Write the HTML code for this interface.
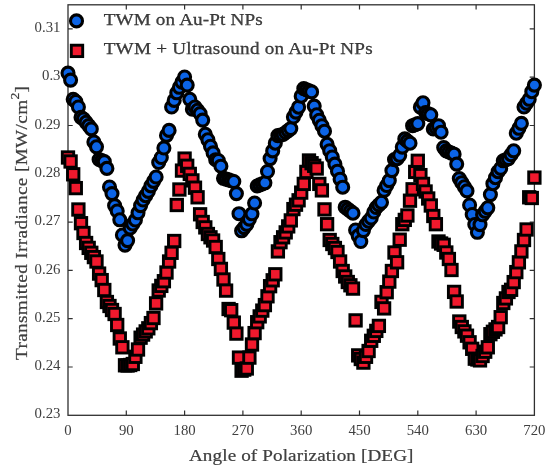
<!DOCTYPE html><html><head><meta charset="utf-8"><title>Transmitted Irradiance</title>
<style>html,body{margin:0;padding:0;background:#fff}svg{display:block}text{font-family:"Liberation Serif",serif;fill:#404040}</style></head><body>
<svg width="550" height="471" viewBox="0 0 550 471">
<rect width="550" height="471" fill="#fff"/>
<rect x="68.0" y="4.8" width="466.4" height="410.5" fill="none" stroke="#303030" stroke-width="1.3"/>
<path d="M126.3 415.3v-4.7M126.3 4.8v4.7M184.6 415.3v-4.7M184.6 4.8v4.7M242.9 415.3v-4.7M242.9 4.8v4.7M301.2 415.3v-4.7M301.2 4.8v4.7M359.5 415.3v-4.7M359.5 4.8v4.7M417.8 415.3v-4.7M417.8 4.8v4.7M476.1 415.3v-4.7M476.1 4.8v4.7M68.0 28.9h4.7M534.4 28.9h-4.7M68.0 77.2h4.7M534.4 77.2h-4.7M68.0 125.5h4.7M534.4 125.5h-4.7M68.0 173.8h4.7M534.4 173.8h-4.7M68.0 222.1h4.7M534.4 222.1h-4.7M68.0 270.4h4.7M534.4 270.4h-4.7M68.0 318.7h4.7M534.4 318.7h-4.7M68.0 367.0h4.7M534.4 367.0h-4.7" stroke="#303030" stroke-width="1.2" fill="none"/>
<g font-size="14.8">
<text x="68.0" y="435.2" text-anchor="middle">0</text>
<text x="126.3" y="435.2" text-anchor="middle">90</text>
<text x="184.6" y="435.2" text-anchor="middle">180</text>
<text x="242.9" y="435.2" text-anchor="middle">270</text>
<text x="301.2" y="435.2" text-anchor="middle">360</text>
<text x="359.5" y="435.2" text-anchor="middle">450</text>
<text x="417.8" y="435.2" text-anchor="middle">540</text>
<text x="476.1" y="435.2" text-anchor="middle">630</text>
<text x="534.4" y="435.2" text-anchor="middle">720</text>
<text x="60.5" y="32.0" text-anchor="end">0.31</text>
<text x="60.5" y="80.3" text-anchor="end">0.3</text>
<text x="60.5" y="128.6" text-anchor="end">0.29</text>
<text x="60.5" y="176.9" text-anchor="end">0.28</text>
<text x="60.5" y="225.2" text-anchor="end">0.27</text>
<text x="60.5" y="273.5" text-anchor="end">0.26</text>
<text x="60.5" y="321.8" text-anchor="end">0.25</text>
<text x="60.5" y="370.1" text-anchor="end">0.24</text>
<text x="60.5" y="418.4" text-anchor="end">0.23</text>
</g>
<text transform="translate(301.2 460.6) scale(1.090 1)" font-size="17.6" fill="#333" stroke="#333" stroke-width="0.2" text-anchor="middle" textLength="206.0" lengthAdjust="spacing">Angle of Polarization [DEG]</text>
<text transform="translate(27 223) rotate(-90) scale(1.090 1)" font-size="17.6" fill="#333" stroke="#333" stroke-width="0.2" text-anchor="middle" textLength="251.4" lengthAdjust="spacing">Transmitted Irradiance [MW/cm<tspan font-size="12.5" dy="-8.5">2</tspan><tspan dy="8.5">]</tspan></text>
<g fill="#0c64e6" stroke="#000" stroke-width="3.1">
<circle cx="68.0" cy="73.1" r="6.00"/>
<circle cx="70.6" cy="80.1" r="6.00"/>
<circle cx="73.2" cy="99.3" r="6.00"/>
<circle cx="75.8" cy="101.5" r="6.00"/>
<circle cx="78.4" cy="107.0" r="6.00"/>
<circle cx="81.0" cy="117.3" r="6.00"/>
<circle cx="83.5" cy="119.0" r="6.00"/>
<circle cx="86.1" cy="122.3" r="6.00"/>
<circle cx="88.7" cy="125.6" r="6.00"/>
<circle cx="91.3" cy="128.9" r="6.00"/>
<circle cx="93.9" cy="142.0" r="6.00"/>
<circle cx="96.5" cy="146.8" r="6.00"/>
<circle cx="99.1" cy="159.5" r="6.00"/>
<circle cx="101.7" cy="160.6" r="6.00"/>
<circle cx="104.3" cy="161.6" r="6.00"/>
<circle cx="106.9" cy="168.4" r="6.00"/>
<circle cx="109.5" cy="187.0" r="6.00"/>
<circle cx="112.0" cy="193.6" r="6.00"/>
<circle cx="114.6" cy="205.6" r="6.00"/>
<circle cx="117.2" cy="211.0" r="6.00"/>
<circle cx="119.8" cy="219.8" r="6.00"/>
<circle cx="122.4" cy="235.0" r="6.00"/>
<circle cx="125.0" cy="245.1" r="6.00"/>
<circle cx="127.6" cy="240.6" r="6.00"/>
<circle cx="130.2" cy="228.0" r="6.00"/>
<circle cx="132.8" cy="224.0" r="6.00"/>
<circle cx="135.4" cy="220.0" r="6.00"/>
<circle cx="138.0" cy="212.8" r="6.00"/>
<circle cx="140.6" cy="205.6" r="6.00"/>
<circle cx="143.1" cy="200.0" r="6.00"/>
<circle cx="145.7" cy="195.7" r="6.00"/>
<circle cx="148.3" cy="191.4" r="6.00"/>
<circle cx="150.9" cy="185.9" r="6.00"/>
<circle cx="153.5" cy="181.4" r="6.00"/>
<circle cx="156.1" cy="177.0" r="6.00"/>
<circle cx="158.7" cy="162.5" r="6.00"/>
<circle cx="161.3" cy="157.5" r="6.00"/>
<circle cx="163.9" cy="148.0" r="6.00"/>
<circle cx="166.5" cy="135.4" r="6.00"/>
<circle cx="169.1" cy="130.4" r="6.00"/>
<circle cx="171.6" cy="107.0" r="6.00"/>
<circle cx="174.2" cy="100.4" r="6.00"/>
<circle cx="176.8" cy="92.8" r="6.00"/>
<circle cx="179.4" cy="87.3" r="6.00"/>
<circle cx="182.0" cy="82.2" r="6.00"/>
<circle cx="184.6" cy="77.0" r="6.00"/>
<circle cx="187.2" cy="85.1" r="6.00"/>
<circle cx="189.8" cy="99.3" r="6.00"/>
<circle cx="192.4" cy="109.2" r="6.00"/>
<circle cx="195.0" cy="107.0" r="6.00"/>
<circle cx="197.6" cy="110.3" r="6.00"/>
<circle cx="200.1" cy="113.6" r="6.00"/>
<circle cx="202.7" cy="120.1" r="6.00"/>
<circle cx="205.3" cy="134.3" r="6.00"/>
<circle cx="207.9" cy="139.8" r="6.00"/>
<circle cx="210.5" cy="146.3" r="6.00"/>
<circle cx="213.1" cy="152.9" r="6.00"/>
<circle cx="215.7" cy="159.7" r="6.00"/>
<circle cx="218.3" cy="160.5" r="6.00"/>
<circle cx="220.9" cy="166.2" r="6.00"/>
<circle cx="223.5" cy="178.3" r="6.00"/>
<circle cx="226.1" cy="179.1" r="6.00"/>
<circle cx="228.6" cy="179.9" r="6.00"/>
<circle cx="231.2" cy="180.7" r="6.00"/>
<circle cx="233.8" cy="181.5" r="6.00"/>
<circle cx="236.4" cy="193.6" r="6.00"/>
<circle cx="239.0" cy="213.7" r="6.00"/>
<circle cx="241.6" cy="230.8" r="6.00"/>
<circle cx="244.2" cy="227.6" r="6.00"/>
<circle cx="246.8" cy="224.4" r="6.00"/>
<circle cx="249.4" cy="219.1" r="6.00"/>
<circle cx="252.0" cy="213.8" r="6.00"/>
<circle cx="254.6" cy="203.0" r="6.00"/>
<circle cx="257.2" cy="186.0" r="6.00"/>
<circle cx="259.7" cy="184.9" r="6.00"/>
<circle cx="262.3" cy="183.9" r="6.00"/>
<circle cx="264.9" cy="182.8" r="6.00"/>
<circle cx="267.5" cy="171.5" r="6.00"/>
<circle cx="270.1" cy="158.6" r="6.00"/>
<circle cx="272.7" cy="150.9" r="6.00"/>
<circle cx="275.3" cy="143.2" r="6.00"/>
<circle cx="277.9" cy="135.6" r="6.00"/>
<circle cx="280.5" cy="135.1" r="6.00"/>
<circle cx="283.1" cy="134.5" r="6.00"/>
<circle cx="285.7" cy="132.5" r="6.00"/>
<circle cx="288.2" cy="130.6" r="6.00"/>
<circle cx="290.8" cy="128.6" r="6.00"/>
<circle cx="293.4" cy="117.0" r="6.00"/>
<circle cx="296.0" cy="112.1" r="6.00"/>
<circle cx="298.6" cy="107.2" r="6.00"/>
<circle cx="301.2" cy="96.2" r="6.00"/>
<circle cx="303.8" cy="88.6" r="6.00"/>
<circle cx="306.4" cy="89.7" r="6.00"/>
<circle cx="309.0" cy="90.8" r="6.00"/>
<circle cx="311.6" cy="91.9" r="6.00"/>
<circle cx="314.2" cy="106.1" r="6.00"/>
<circle cx="316.7" cy="114.8" r="6.00"/>
<circle cx="319.3" cy="120.3" r="6.00"/>
<circle cx="321.9" cy="125.7" r="6.00"/>
<circle cx="324.5" cy="131.2" r="6.00"/>
<circle cx="327.1" cy="144.3" r="6.00"/>
<circle cx="329.7" cy="150.7" r="6.00"/>
<circle cx="332.3" cy="157.0" r="6.00"/>
<circle cx="334.9" cy="164.1" r="6.00"/>
<circle cx="337.5" cy="171.2" r="6.00"/>
<circle cx="340.1" cy="179.2" r="6.00"/>
<circle cx="342.7" cy="187.2" r="6.00"/>
<circle cx="345.2" cy="207.2" r="6.00"/>
<circle cx="347.8" cy="209.2" r="6.00"/>
<circle cx="350.4" cy="211.2" r="6.00"/>
<circle cx="353.0" cy="213.2" r="6.00"/>
<circle cx="355.6" cy="230.0" r="6.00"/>
<circle cx="358.2" cy="235.8" r="6.00"/>
<circle cx="360.8" cy="241.5" r="6.00"/>
<circle cx="363.4" cy="230.6" r="6.00"/>
<circle cx="366.0" cy="224.5" r="6.00"/>
<circle cx="368.6" cy="221.2" r="6.00"/>
<circle cx="371.2" cy="218.0" r="6.00"/>
<circle cx="373.8" cy="212.0" r="6.00"/>
<circle cx="376.3" cy="207.5" r="6.00"/>
<circle cx="378.9" cy="204.9" r="6.00"/>
<circle cx="381.5" cy="202.3" r="6.00"/>
<circle cx="384.1" cy="190.4" r="6.00"/>
<circle cx="386.7" cy="185.5" r="6.00"/>
<circle cx="389.3" cy="180.6" r="6.00"/>
<circle cx="391.9" cy="170.6" r="6.00"/>
<circle cx="394.5" cy="159.6" r="6.00"/>
<circle cx="397.1" cy="158.7" r="6.00"/>
<circle cx="399.7" cy="155.3" r="6.00"/>
<circle cx="402.3" cy="147.1" r="6.00"/>
<circle cx="404.8" cy="138.9" r="6.00"/>
<circle cx="407.4" cy="141.1" r="6.00"/>
<circle cx="410.0" cy="143.2" r="6.00"/>
<circle cx="412.6" cy="125.7" r="6.00"/>
<circle cx="415.2" cy="124.7" r="6.00"/>
<circle cx="417.8" cy="123.6" r="6.00"/>
<circle cx="420.4" cy="107.2" r="6.00"/>
<circle cx="423.0" cy="102.8" r="6.00"/>
<circle cx="425.6" cy="112.6" r="6.00"/>
<circle cx="428.2" cy="113.7" r="6.00"/>
<circle cx="430.8" cy="114.8" r="6.00"/>
<circle cx="433.3" cy="129.0" r="6.00"/>
<circle cx="435.9" cy="127.3" r="6.00"/>
<circle cx="438.5" cy="125.7" r="6.00"/>
<circle cx="441.1" cy="132.2" r="6.00"/>
<circle cx="443.7" cy="147.6" r="6.00"/>
<circle cx="446.3" cy="150.9" r="6.00"/>
<circle cx="448.9" cy="152.0" r="6.00"/>
<circle cx="451.5" cy="153.1" r="6.00"/>
<circle cx="454.1" cy="154.2" r="6.00"/>
<circle cx="456.7" cy="164.1" r="6.00"/>
<circle cx="459.3" cy="178.6" r="6.00"/>
<circle cx="461.8" cy="182.7" r="6.00"/>
<circle cx="464.4" cy="186.8" r="6.00"/>
<circle cx="467.0" cy="190.9" r="6.00"/>
<circle cx="469.6" cy="205.0" r="6.00"/>
<circle cx="472.2" cy="214.5" r="6.00"/>
<circle cx="474.8" cy="224.5" r="6.00"/>
<circle cx="477.4" cy="232.3" r="6.00"/>
<circle cx="480.0" cy="224.6" r="6.00"/>
<circle cx="482.6" cy="214.8" r="6.00"/>
<circle cx="485.2" cy="211.3" r="6.00"/>
<circle cx="487.8" cy="207.8" r="6.00"/>
<circle cx="490.4" cy="194.6" r="6.00"/>
<circle cx="492.9" cy="183.7" r="6.00"/>
<circle cx="495.5" cy="177.7" r="6.00"/>
<circle cx="498.1" cy="171.7" r="6.00"/>
<circle cx="500.7" cy="168.4" r="6.00"/>
<circle cx="503.3" cy="160.8" r="6.00"/>
<circle cx="505.9" cy="159.7" r="6.00"/>
<circle cx="508.5" cy="158.6" r="6.00"/>
<circle cx="511.1" cy="154.7" r="6.00"/>
<circle cx="513.7" cy="150.8" r="6.00"/>
<circle cx="516.3" cy="133.2" r="6.00"/>
<circle cx="518.9" cy="128.3" r="6.00"/>
<circle cx="521.4" cy="123.4" r="6.00"/>
<circle cx="524.0" cy="107.0" r="6.00"/>
<circle cx="526.6" cy="103.2" r="6.00"/>
<circle cx="529.2" cy="99.3" r="6.00"/>
<circle cx="531.8" cy="91.7" r="6.00"/>
<circle cx="534.4" cy="85.1" r="6.00"/>
<circle cx="76.5" cy="20.9" r="6.00"/>
</g>
<g fill="#f0192d" stroke="#000" stroke-width="2.9">
<rect x="62.3" y="151.8" width="11.4" height="11.4"/>
<rect x="64.9" y="155.8" width="11.4" height="11.4"/>
<rect x="67.5" y="168.6" width="11.4" height="11.4"/>
<rect x="70.1" y="182.4" width="11.4" height="11.4"/>
<rect x="72.7" y="203.8" width="11.4" height="11.4"/>
<rect x="75.3" y="217.5" width="11.4" height="11.4"/>
<rect x="77.8" y="227.3" width="11.4" height="11.4"/>
<rect x="80.4" y="237.3" width="11.4" height="11.4"/>
<rect x="83.0" y="242.2" width="11.4" height="11.4"/>
<rect x="85.6" y="247.1" width="11.4" height="11.4"/>
<rect x="88.2" y="251.4" width="11.4" height="11.4"/>
<rect x="90.8" y="255.8" width="11.4" height="11.4"/>
<rect x="93.4" y="267.9" width="11.4" height="11.4"/>
<rect x="96.0" y="274.4" width="11.4" height="11.4"/>
<rect x="98.6" y="284.3" width="11.4" height="11.4"/>
<rect x="101.2" y="296.3" width="11.4" height="11.4"/>
<rect x="103.8" y="300.3" width="11.4" height="11.4"/>
<rect x="106.3" y="304.3" width="11.4" height="11.4"/>
<rect x="108.9" y="308.3" width="11.4" height="11.4"/>
<rect x="111.5" y="319.3" width="11.4" height="11.4"/>
<rect x="114.1" y="332.8" width="11.4" height="11.4"/>
<rect x="116.7" y="341.6" width="11.4" height="11.4"/>
<rect x="119.3" y="359.6" width="11.4" height="11.4"/>
<rect x="121.9" y="359.8" width="11.4" height="11.4"/>
<rect x="124.5" y="359.3" width="11.4" height="11.4"/>
<rect x="127.1" y="358.3" width="11.4" height="11.4"/>
<rect x="129.7" y="351.1" width="11.4" height="11.4"/>
<rect x="132.3" y="343.8" width="11.4" height="11.4"/>
<rect x="134.9" y="332.0" width="11.4" height="11.4"/>
<rect x="137.4" y="328.9" width="11.4" height="11.4"/>
<rect x="140.0" y="325.7" width="11.4" height="11.4"/>
<rect x="142.6" y="322.6" width="11.4" height="11.4"/>
<rect x="145.2" y="317.4" width="11.4" height="11.4"/>
<rect x="147.8" y="312.3" width="11.4" height="11.4"/>
<rect x="150.4" y="297.7" width="11.4" height="11.4"/>
<rect x="153.0" y="284.8" width="11.4" height="11.4"/>
<rect x="155.6" y="280.2" width="11.4" height="11.4"/>
<rect x="158.2" y="275.5" width="11.4" height="11.4"/>
<rect x="160.8" y="266.8" width="11.4" height="11.4"/>
<rect x="163.4" y="255.8" width="11.4" height="11.4"/>
<rect x="165.9" y="247.1" width="11.4" height="11.4"/>
<rect x="168.5" y="235.3" width="11.4" height="11.4"/>
<rect x="171.1" y="199.3" width="11.4" height="11.4"/>
<rect x="173.7" y="183.8" width="11.4" height="11.4"/>
<rect x="176.3" y="164.9" width="11.4" height="11.4"/>
<rect x="178.9" y="152.9" width="11.4" height="11.4"/>
<rect x="181.5" y="160.1" width="11.4" height="11.4"/>
<rect x="184.1" y="168.2" width="11.4" height="11.4"/>
<rect x="186.7" y="174.7" width="11.4" height="11.4"/>
<rect x="189.3" y="182.0" width="11.4" height="11.4"/>
<rect x="191.9" y="191.6" width="11.4" height="11.4"/>
<rect x="194.4" y="208.6" width="11.4" height="11.4"/>
<rect x="197.0" y="216.3" width="11.4" height="11.4"/>
<rect x="199.6" y="221.7" width="11.4" height="11.4"/>
<rect x="202.2" y="228.3" width="11.4" height="11.4"/>
<rect x="204.8" y="231.6" width="11.4" height="11.4"/>
<rect x="207.4" y="234.8" width="11.4" height="11.4"/>
<rect x="210.0" y="241.3" width="11.4" height="11.4"/>
<rect x="212.6" y="253.3" width="11.4" height="11.4"/>
<rect x="215.2" y="263.2" width="11.4" height="11.4"/>
<rect x="217.8" y="273.8" width="11.4" height="11.4"/>
<rect x="220.4" y="284.9" width="11.4" height="11.4"/>
<rect x="222.9" y="303.3" width="11.4" height="11.4"/>
<rect x="225.5" y="304.5" width="11.4" height="11.4"/>
<rect x="228.1" y="316.9" width="11.4" height="11.4"/>
<rect x="230.7" y="327.9" width="11.4" height="11.4"/>
<rect x="233.3" y="351.9" width="11.4" height="11.4"/>
<rect x="235.9" y="365.0" width="11.4" height="11.4"/>
<rect x="238.5" y="363.9" width="11.4" height="11.4"/>
<rect x="241.1" y="362.8" width="11.4" height="11.4"/>
<rect x="243.7" y="351.9" width="11.4" height="11.4"/>
<rect x="246.3" y="338.8" width="11.4" height="11.4"/>
<rect x="248.9" y="327.4" width="11.4" height="11.4"/>
<rect x="251.5" y="316.5" width="11.4" height="11.4"/>
<rect x="254.0" y="310.7" width="11.4" height="11.4"/>
<rect x="256.6" y="304.9" width="11.4" height="11.4"/>
<rect x="259.2" y="299.4" width="11.4" height="11.4"/>
<rect x="261.8" y="290.6" width="11.4" height="11.4"/>
<rect x="264.4" y="280.5" width="11.4" height="11.4"/>
<rect x="267.0" y="274.6" width="11.4" height="11.4"/>
<rect x="269.6" y="268.6" width="11.4" height="11.4"/>
<rect x="272.2" y="245.7" width="11.4" height="11.4"/>
<rect x="274.8" y="236.5" width="11.4" height="11.4"/>
<rect x="277.4" y="231.6" width="11.4" height="11.4"/>
<rect x="280.0" y="226.7" width="11.4" height="11.4"/>
<rect x="282.5" y="220.7" width="11.4" height="11.4"/>
<rect x="285.1" y="214.7" width="11.4" height="11.4"/>
<rect x="287.7" y="203.4" width="11.4" height="11.4"/>
<rect x="290.3" y="199.0" width="11.4" height="11.4"/>
<rect x="292.9" y="194.6" width="11.4" height="11.4"/>
<rect x="295.5" y="186.9" width="11.4" height="11.4"/>
<rect x="298.1" y="178.2" width="11.4" height="11.4"/>
<rect x="300.7" y="166.2" width="11.4" height="11.4"/>
<rect x="303.3" y="154.8" width="11.4" height="11.4"/>
<rect x="305.9" y="157.5" width="11.4" height="11.4"/>
<rect x="308.5" y="160.1" width="11.4" height="11.4"/>
<rect x="311.0" y="162.8" width="11.4" height="11.4"/>
<rect x="313.6" y="178.2" width="11.4" height="11.4"/>
<rect x="316.2" y="184.7" width="11.4" height="11.4"/>
<rect x="318.8" y="203.7" width="11.4" height="11.4"/>
<rect x="321.4" y="218.5" width="11.4" height="11.4"/>
<rect x="324.0" y="234.3" width="11.4" height="11.4"/>
<rect x="326.6" y="238.3" width="11.4" height="11.4"/>
<rect x="329.2" y="242.3" width="11.4" height="11.4"/>
<rect x="331.8" y="246.3" width="11.4" height="11.4"/>
<rect x="334.4" y="255.8" width="11.4" height="11.4"/>
<rect x="337.0" y="265.3" width="11.4" height="11.4"/>
<rect x="339.5" y="270.8" width="11.4" height="11.4"/>
<rect x="342.1" y="276.3" width="11.4" height="11.4"/>
<rect x="344.7" y="279.6" width="11.4" height="11.4"/>
<rect x="347.3" y="282.9" width="11.4" height="11.4"/>
<rect x="349.9" y="314.7" width="11.4" height="11.4"/>
<rect x="352.5" y="349.7" width="11.4" height="11.4"/>
<rect x="355.1" y="353.3" width="11.4" height="11.4"/>
<rect x="357.7" y="356.9" width="11.4" height="11.4"/>
<rect x="360.3" y="351.1" width="11.4" height="11.4"/>
<rect x="362.9" y="345.3" width="11.4" height="11.4"/>
<rect x="365.5" y="335.1" width="11.4" height="11.4"/>
<rect x="368.1" y="330.1" width="11.4" height="11.4"/>
<rect x="370.6" y="325.2" width="11.4" height="11.4"/>
<rect x="373.2" y="320.2" width="11.4" height="11.4"/>
<rect x="375.8" y="296.2" width="11.4" height="11.4"/>
<rect x="378.4" y="302.7" width="11.4" height="11.4"/>
<rect x="381.0" y="286.5" width="11.4" height="11.4"/>
<rect x="383.6" y="275.9" width="11.4" height="11.4"/>
<rect x="386.2" y="265.3" width="11.4" height="11.4"/>
<rect x="388.8" y="246.8" width="11.4" height="11.4"/>
<rect x="391.4" y="256.6" width="11.4" height="11.4"/>
<rect x="394.0" y="234.0" width="11.4" height="11.4"/>
<rect x="396.6" y="218.5" width="11.4" height="11.4"/>
<rect x="399.1" y="214.2" width="11.4" height="11.4"/>
<rect x="401.7" y="209.8" width="11.4" height="11.4"/>
<rect x="404.3" y="195.0" width="11.4" height="11.4"/>
<rect x="406.9" y="183.6" width="11.4" height="11.4"/>
<rect x="409.5" y="166.2" width="11.4" height="11.4"/>
<rect x="412.1" y="155.1" width="11.4" height="11.4"/>
<rect x="414.7" y="169.4" width="11.4" height="11.4"/>
<rect x="417.3" y="178.2" width="11.4" height="11.4"/>
<rect x="419.9" y="185.8" width="11.4" height="11.4"/>
<rect x="422.5" y="192.8" width="11.4" height="11.4"/>
<rect x="425.1" y="199.8" width="11.4" height="11.4"/>
<rect x="427.6" y="210.3" width="11.4" height="11.4"/>
<rect x="430.2" y="218.5" width="11.4" height="11.4"/>
<rect x="432.8" y="235.8" width="11.4" height="11.4"/>
<rect x="435.4" y="237.8" width="11.4" height="11.4"/>
<rect x="438.0" y="239.1" width="11.4" height="11.4"/>
<rect x="440.6" y="246.8" width="11.4" height="11.4"/>
<rect x="443.2" y="253.3" width="11.4" height="11.4"/>
<rect x="445.8" y="264.3" width="11.4" height="11.4"/>
<rect x="448.4" y="286.2" width="11.4" height="11.4"/>
<rect x="451.0" y="295.8" width="11.4" height="11.4"/>
<rect x="453.6" y="315.8" width="11.4" height="11.4"/>
<rect x="456.1" y="321.3" width="11.4" height="11.4"/>
<rect x="458.7" y="325.7" width="11.4" height="11.4"/>
<rect x="461.3" y="330.0" width="11.4" height="11.4"/>
<rect x="463.9" y="336.6" width="11.4" height="11.4"/>
<rect x="466.5" y="343.1" width="11.4" height="11.4"/>
<rect x="469.1" y="353.0" width="11.4" height="11.4"/>
<rect x="471.7" y="353.8" width="11.4" height="11.4"/>
<rect x="474.3" y="354.7" width="11.4" height="11.4"/>
<rect x="476.9" y="350.3" width="11.4" height="11.4"/>
<rect x="479.5" y="346.0" width="11.4" height="11.4"/>
<rect x="482.1" y="341.6" width="11.4" height="11.4"/>
<rect x="484.7" y="328.5" width="11.4" height="11.4"/>
<rect x="487.2" y="326.1" width="11.4" height="11.4"/>
<rect x="489.8" y="323.7" width="11.4" height="11.4"/>
<rect x="492.4" y="321.3" width="11.4" height="11.4"/>
<rect x="495.0" y="311.5" width="11.4" height="11.4"/>
<rect x="497.6" y="297.3" width="11.4" height="11.4"/>
<rect x="500.2" y="292.7" width="11.4" height="11.4"/>
<rect x="502.8" y="286.3" width="11.4" height="11.4"/>
<rect x="505.4" y="284.1" width="11.4" height="11.4"/>
<rect x="508.0" y="276.4" width="11.4" height="11.4"/>
<rect x="510.6" y="266.4" width="11.4" height="11.4"/>
<rect x="513.2" y="256.6" width="11.4" height="11.4"/>
<rect x="515.7" y="245.7" width="11.4" height="11.4"/>
<rect x="518.3" y="234.3" width="11.4" height="11.4"/>
<rect x="520.9" y="223.8" width="11.4" height="11.4"/>
<rect x="523.5" y="191.6" width="11.4" height="11.4"/>
<rect x="526.1" y="192.3" width="11.4" height="11.4"/>
<rect x="528.7" y="171.9" width="11.4" height="11.4"/>
<rect x="71.3" y="45.2" width="11.4" height="11.4"/>
</g>
<text transform="translate(103.7 24.8) scale(1.090 1)" font-size="17.6" fill="#1c1c1c" stroke="#1c1c1c" stroke-width="0.25" textLength="145.9" lengthAdjust="spacing">TWM on Au-Pt NPs</text>
<text transform="translate(103.7 53.9) scale(1.090 1)" font-size="17.6" fill="#1c1c1c" stroke="#1c1c1c" stroke-width="0.25" textLength="246.8" lengthAdjust="spacing">TWM + Ultrasound on Au-Pt NPs</text>
</svg></body></html>
